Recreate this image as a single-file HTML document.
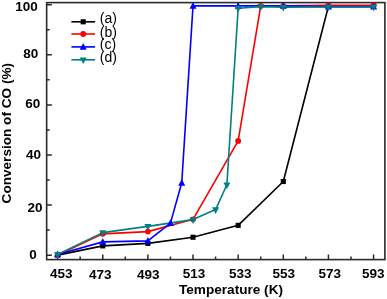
<!DOCTYPE html>
<html><head><meta charset="utf-8"><style>
html,body{margin:0;padding:0;background:#fff;}
svg{display:block;}
.b{font-family:"Liberation Sans",Arial,sans-serif;font-weight:bold;font-size:13.5px;fill:#000;}
.t{font-family:"Liberation Sans",Arial,sans-serif;font-weight:bold;font-size:13.6px;fill:#000;}
.r{font-family:"Liberation Sans",Arial,sans-serif;font-size:14.0px;fill:#000;}
</style></head><body>
<svg width="387" height="299" viewBox="0 0 387 299">
<rect x="46.65" y="2.6" width="338.25" height="257.00" fill="none" stroke="#2a2a2a" stroke-width="1.6"/>
<path d="M46.65,255.15h5.2 M46.65,205.07h5.2 M46.65,154.99h5.2 M46.65,104.91h5.2 M46.65,54.83h5.2 M46.65,4.75h5.2 M46.65,230.11h3 M46.65,180.03h3 M46.65,129.95h3 M46.65,79.87h3 M46.65,29.79h3 M57.60,259.6v-5.2 M102.74,259.6v-5.2 M147.88,259.6v-5.2 M193.02,259.6v-5.2 M238.16,259.6v-5.2 M283.30,259.6v-5.2 M328.44,259.6v-5.2 M373.58,259.6v-5.2 M80.17,259.6v-3 M125.31,259.6v-3 M170.45,259.6v-3 M215.59,259.6v-3 M260.73,259.6v-3 M305.87,259.6v-3 M351.01,259.6v-3" stroke="#2a2a2a" stroke-width="1.5" fill="none"/>
<text x="26.55" y="10.6" text-anchor="middle" class="b">100</text>
<text x="30.75" y="58.1" text-anchor="middle" class="b">80</text>
<text x="32.75" y="107.9" text-anchor="middle" class="b">60</text>
<text x="33.4" y="158.7" text-anchor="middle" class="b">40</text>
<text x="35.05" y="212.0" text-anchor="middle" class="b">20</text>
<text x="32.9" y="259.3" text-anchor="middle" class="b">0</text>
<text x="61.3" y="277.7" text-anchor="middle" class="b">453</text>
<text x="100.35" y="278.7" text-anchor="middle" class="b">473</text>
<text x="148.25" y="278.7" text-anchor="middle" class="b">493</text>
<text x="193.9" y="278.4" text-anchor="middle" class="b">513</text>
<text x="240.25" y="278.2" text-anchor="middle" class="b">533</text>
<text x="283.65" y="278.2" text-anchor="middle" class="b">553</text>
<text x="329.65" y="278.2" text-anchor="middle" class="b">573</text>
<text x="373.35" y="277.7" text-anchor="middle" class="b">593</text>
<text x="231" y="294.4" text-anchor="middle" class="t">Temperature (K)</text>
<text transform="translate(11.1,133.2) rotate(-90)" text-anchor="middle" class="t">Conversion of CO (%)</text>
<polyline points="57.60,255.15 102.74,245.89 147.88,243.38 193.02,237.25 238.16,225.35 283.30,181.53 328.44,6.25 373.58,6.25" fill="none" stroke="#000" stroke-width="1.6" stroke-linejoin="round"/>
<polyline points="57.60,255.15 102.74,233.87 147.88,231.61 193.02,219.34 238.16,140.97 260.73,5.88 283.30,5.88 328.44,5.25 373.58,5.25" fill="none" stroke="#ff0000" stroke-width="1.6" stroke-linejoin="round"/>
<polyline points="57.60,254.40 102.74,241.88 147.88,240.88 170.45,223.10 181.74,182.78 193.02,5.88 238.16,5.88 283.30,5.88 328.44,6.63 373.58,6.63" fill="none" stroke="#0000ff" stroke-width="1.6" stroke-linejoin="round"/>
<polyline points="57.60,254.40 102.74,232.61 147.88,226.35 193.02,219.59 215.59,209.58 226.88,184.79 238.16,8.26 260.73,6.75 283.30,7.13 328.44,7.00 373.58,7.00" fill="none" stroke="#008080" stroke-width="1.6" stroke-linejoin="round"/>
<rect x="55.05" y="252.60" width="5.1" height="5.1" fill="#000"/>
<rect x="100.19" y="243.34" width="5.1" height="5.1" fill="#000"/>
<rect x="145.33" y="240.83" width="5.1" height="5.1" fill="#000"/>
<rect x="190.47" y="234.70" width="5.1" height="5.1" fill="#000"/>
<rect x="235.61" y="222.80" width="5.1" height="5.1" fill="#000"/>
<rect x="280.75" y="178.98" width="5.1" height="5.1" fill="#000"/>
<rect x="325.89" y="3.70" width="5.1" height="5.1" fill="#000"/>
<rect x="371.03" y="3.70" width="5.1" height="5.1" fill="#000"/>
<circle cx="57.60" cy="255.15" r="2.9" fill="#ff0000"/>
<circle cx="102.74" cy="233.87" r="2.9" fill="#ff0000"/>
<circle cx="147.88" cy="231.61" r="2.9" fill="#ff0000"/>
<circle cx="193.02" cy="219.34" r="2.9" fill="#ff0000"/>
<circle cx="238.16" cy="140.97" r="2.9" fill="#ff0000"/>
<circle cx="260.73" cy="5.88" r="2.9" fill="#ff0000"/>
<circle cx="283.30" cy="5.88" r="2.9" fill="#ff0000"/>
<circle cx="328.44" cy="5.25" r="2.9" fill="#ff0000"/>
<circle cx="373.58" cy="5.25" r="2.9" fill="#ff0000"/>
<polygon points="57.60,250.60 54.10,257.30 61.10,257.30" fill="#0000ff"/>
<polygon points="102.74,238.08 99.24,244.78 106.24,244.78" fill="#0000ff"/>
<polygon points="147.88,237.08 144.38,243.78 151.38,243.78" fill="#0000ff"/>
<polygon points="170.45,219.30 166.95,226.00 173.95,226.00" fill="#0000ff"/>
<polygon points="181.74,178.98 178.24,185.68 185.24,185.68" fill="#0000ff"/>
<polygon points="193.02,2.08 189.52,8.78 196.52,8.78" fill="#0000ff"/>
<polygon points="238.16,2.08 234.66,8.78 241.66,8.78" fill="#0000ff"/>
<polygon points="283.30,2.08 279.80,8.78 286.80,8.78" fill="#0000ff"/>
<polygon points="328.44,2.83 324.94,9.53 331.94,9.53" fill="#0000ff"/>
<polygon points="373.58,2.83 370.08,9.53 377.08,9.53" fill="#0000ff"/>
<polygon points="57.60,258.70 54.10,252.00 61.10,252.00" fill="#008080"/>
<polygon points="102.74,236.91 99.24,230.21 106.24,230.21" fill="#008080"/>
<polygon points="147.88,230.65 144.38,223.95 151.38,223.95" fill="#008080"/>
<polygon points="193.02,223.89 189.52,217.19 196.52,217.19" fill="#008080"/>
<polygon points="215.59,213.88 212.09,207.18 219.09,207.18" fill="#008080"/>
<polygon points="226.88,189.09 223.38,182.39 230.38,182.39" fill="#008080"/>
<polygon points="238.16,12.56 234.66,5.86 241.66,5.86" fill="#008080"/>
<polygon points="260.73,11.05 257.23,4.35 264.23,4.35" fill="#008080"/>
<polygon points="283.30,11.43 279.80,4.73 286.80,4.73" fill="#008080"/>
<polygon points="328.44,11.30 324.94,4.60 331.94,4.60" fill="#008080"/>
<polygon points="373.58,11.30 370.08,4.60 377.08,4.60" fill="#008080"/>
<line x1="71.4" y1="21.8" x2="95.1" y2="21.8" stroke="#000" stroke-width="1.6"/>
<rect x="80.65" y="19.25" width="5.1" height="5.1" fill="#000"/>
<text x="99.8" y="22.7" class="r">(a)</text>
<line x1="71.4" y1="34.0" x2="95.1" y2="34.0" stroke="#ff0000" stroke-width="1.6"/>
<circle cx="83.20" cy="34.00" r="2.9" fill="#ff0000"/>
<text x="99.8" y="36.5" class="r">(b)</text>
<line x1="71.4" y1="46.9" x2="95.1" y2="46.9" stroke="#0000ff" stroke-width="1.6"/>
<polygon points="83.20,43.10 79.70,49.80 86.70,49.80" fill="#0000ff"/>
<text x="99.8" y="49.4" class="r">(c)</text>
<line x1="71.4" y1="59.8" x2="95.1" y2="59.8" stroke="#008080" stroke-width="1.6"/>
<polygon points="83.20,64.10 79.70,57.40 86.70,57.40" fill="#008080"/>
<text x="99.8" y="61.9" class="r">(d)</text>
</svg>
</body></html>
